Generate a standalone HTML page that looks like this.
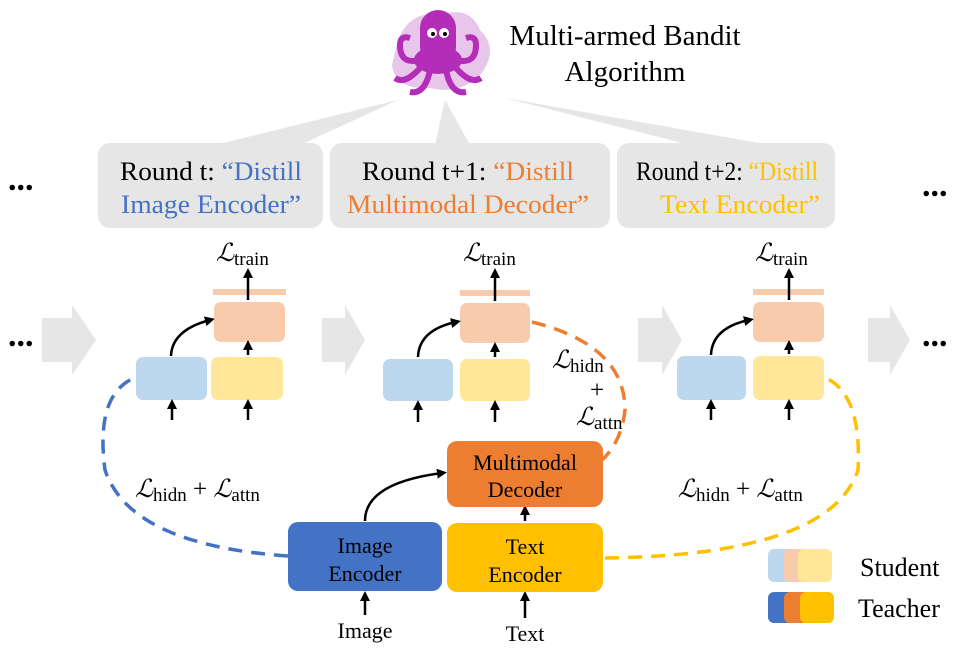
<!DOCTYPE html>
<html><head><meta charset="utf-8"><style>
html,body{margin:0;padding:0;background:#fff}
svg{display:block}
</style></head><body>
<svg width="967" height="651" viewBox="0 0 967 651" xmlns="http://www.w3.org/2000/svg" font-family="'Liberation Serif','Times New Roman',Times,serif">
<defs>
<marker id="ah" viewBox="0 0 10 10" refX="5" refY="5" markerWidth="4" markerHeight="4" orient="auto"><path d="M0,0 L10,5 L0,10 z" fill="#000"/></marker>
</defs>
<polygon points="398,100 215,145 300,145" fill="#e6e6e6"/>
<polygon points="445,100 435,145 470,145" fill="#e6e6e6"/>
<polygon points="505,98 690,145 770,145" fill="#e6e6e6"/>
<g>
<path d="M398,40 Q410,10 440,15 Q470,5 480,30 Q500,50 480,75 Q460,95 430,88 Q395,90 392,65 Z" fill="#e2b8e6" opacity="0.8"/>
<rect x="420" y="10" width="36" height="55" rx="18" fill="#b42db8"/>
<ellipse cx="438" cy="60" rx="24" ry="14" fill="#b42db8"/>
<circle cx="432" cy="33" r="5" fill="#fff"/><circle cx="444" cy="33" r="5" fill="#fff"/>
<circle cx="433" cy="34" r="2" fill="#000"/><circle cx="445" cy="34" r="2" fill="#000"/>
<path d="M420,60 Q400,65 400,45 Q400,35 410,38" stroke="#b42db8" stroke-width="6" fill="none"/>
<path d="M456,60 Q476,65 476,45 Q476,35 466,38" stroke="#b42db8" stroke-width="6" fill="none"/>
<path d="M420,68 Q405,85 395,78" stroke="#b42db8" stroke-width="6" fill="none"/>
<path d="M456,68 Q471,85 481,78" stroke="#b42db8" stroke-width="6" fill="none"/>
<path d="M430,70 Q425,95 410,92" stroke="#b42db8" stroke-width="6" fill="none"/>
<path d="M446,70 Q451,95 466,92" stroke="#b42db8" stroke-width="6" fill="none"/>
</g>
<text x="625" y="45" font-size="29" text-anchor="middle">Multi-armed Bandit</text>
<text x="625" y="81" font-size="29" text-anchor="middle">Algorithm</text>
<rect x="98" y="143" width="225" height="85" rx="12" fill="#e6e6e6"/>
<rect x="330" y="143" width="280" height="85" rx="12" fill="#e6e6e6"/>
<rect x="617" y="143" width="218" height="85" rx="12" fill="#e6e6e6"/>
<text x="120" y="180" font-size="26" textLength="182" lengthAdjust="spacingAndGlyphs">Round t: <tspan fill="#4472c4">“Distill</tspan></text>
<text x="121" y="213" font-size="26" fill="#4472c4" textLength="180" lengthAdjust="spacingAndGlyphs">Image Encoder”</text>
<text x="362" y="180" font-size="26" textLength="212" lengthAdjust="spacingAndGlyphs">Round t+1: <tspan fill="#ed7d31">“Distill</tspan></text>
<text x="347" y="213" font-size="26" fill="#ed7d31" textLength="242" lengthAdjust="spacingAndGlyphs">Multimodal Decoder”</text>
<text x="636" y="180" font-size="26" textLength="182" lengthAdjust="spacingAndGlyphs">Round t+2: <tspan fill="#ffc000">“Distill</tspan></text>
<text x="660" y="213" font-size="26" fill="#ffc000" textLength="160" lengthAdjust="spacingAndGlyphs">Text Encoder”</text>
<g font-size="34" font-weight="bold">
<text x="8" y="190">...</text>
<text x="8" y="346">...</text>
<text x="922" y="196">...</text>
<text x="922" y="346">...</text>
</g>
<g fill="#e6e6e6">
<polygon points="42,318 72,318 72,305 96,340 72,375 72,362 42,362"/>
<polygon points="322,318 345,318 345,305 365,340 345,375 345,362 322,362"/>
<polygon points="638,318 662,318 662,305 682,340 662,375 662,362 638,362"/>
<polygon points="868,318 890,318 890,305 910,340 890,375 890,362 868,362"/>
</g>
<g>
<rect x="136" y="357" width="71" height="43" rx="7" fill="#bdd7ee"/>
<rect x="211" y="357" width="72" height="43" rx="7" fill="#ffe699"/>
<rect x="214" y="302" width="71" height="40" rx="7" fill="#f8cbad"/>
<rect x="213" y="289" width="73" height="6" fill="#f8cbad"/>
</g>
<g>
<rect x="383" y="359" width="70" height="42" rx="7" fill="#bdd7ee"/>
<rect x="460" y="359" width="70" height="42" rx="7" fill="#ffe699"/>
<rect x="460" y="303" width="70" height="40" rx="7" fill="#f8cbad"/>
<rect x="460" y="290" width="70" height="6" fill="#f8cbad"/>
</g>
<g>
<rect x="677" y="356" width="69" height="44" rx="7" fill="#bdd7ee"/>
<rect x="753" y="356" width="71" height="44" rx="7" fill="#ffe699"/>
<rect x="753" y="302" width="71" height="40" rx="7" fill="#f8cbad"/>
<rect x="753" y="289" width="71" height="6" fill="#f8cbad"/>
</g>
<g stroke="#000" stroke-width="2.5" fill="none" marker-end="url(#ah)">
<line x1="172" y1="420" x2="172" y2="404"/><line x1="248" y1="420" x2="248" y2="404"/><line x1="248" y1="355" x2="248" y2="345"/><line x1="248" y1="300" x2="248" y2="273"/>
<path d="M171,356 Q172,330 210,320"/>
<line x1="418" y1="422" x2="418" y2="405"/><line x1="495" y1="422" x2="495" y2="405"/><line x1="495" y1="357" x2="495" y2="347"/><line x1="495" y1="301" x2="495" y2="273"/>
<path d="M418,357 Q419,330 456,322"/>
<line x1="711" y1="420" x2="711" y2="404"/><line x1="789" y1="420" x2="789" y2="404"/><line x1="789" y1="354" x2="789" y2="345"/><line x1="789" y1="300" x2="789" y2="273"/>
<path d="M711,355 Q712,328 749,320"/>
<line x1="365" y1="615" x2="365" y2="596"/><line x1="525" y1="618" x2="525" y2="596"/><line x1="525" y1="521" x2="525" y2="510"/>
<path d="M365,521 Q365,483 442,473"/>
</g>
<g font-size="25">
<text x="216" y="261" font-style="italic">ℒ<tspan font-style="normal" font-size="19" dy="4">train</tspan></text>
<text x="463" y="261" font-style="italic">ℒ<tspan font-style="normal" font-size="19" dy="4">train</tspan></text>
<text x="755" y="261" font-style="italic">ℒ<tspan font-style="normal" font-size="19" dy="4">train</tspan></text>
</g>
<path d="M288,556 Q130,545 105,470 Q95,395 134,378" stroke="#4472c4" stroke-width="3.5" fill="none" stroke-dasharray="14,9"/>
<path d="M532,322 Q625,345 625,410 Q620,455 583,473" stroke="#ed7d31" stroke-width="3.5" fill="none" stroke-dasharray="14,9"/>
<path d="M605,558 Q830,555 858,470 Q862,395 826,378" stroke="#ffc000" stroke-width="3.5" fill="none" stroke-dasharray="14,9"/>
<g font-size="25">
<text x="135" y="497" font-style="italic">ℒ<tspan font-style="normal" font-size="19" dy="4">hidn</tspan><tspan font-style="normal" dy="-4"> + </tspan><tspan>ℒ</tspan><tspan font-style="normal" font-size="19" dy="4">attn</tspan></text>
<text x="678" y="497" font-style="italic">ℒ<tspan font-style="normal" font-size="19" dy="4">hidn</tspan><tspan font-style="normal" dy="-4"> + </tspan><tspan>ℒ</tspan><tspan font-style="normal" font-size="19" dy="4">attn</tspan></text>
<text x="552" y="368" font-style="italic">ℒ<tspan font-style="normal" font-size="19" dy="4">hidn</tspan></text>
<text x="590" y="398">+</text>
<text x="576" y="425" font-style="italic">ℒ<tspan font-style="normal" font-size="19" dy="4">attn</tspan></text>
</g>
<rect x="288" y="522" width="154" height="69" rx="10" fill="#4472c4"/>
<rect x="447" y="523" width="156" height="69" rx="10" fill="#ffc000"/>
<rect x="447" y="441" width="156" height="66" rx="10" fill="#ed7d31"/>
<g font-size="22" text-anchor="middle">
<text x="365" y="553">Image</text>
<text x="365" y="581">Encoder</text>
<text x="525" y="554">Text</text>
<text x="525" y="582">Encoder</text>
<text x="525" y="470">Multimodal</text>
<text x="525" y="497">Decoder</text>
<text x="365" y="638">Image</text>
<text x="525" y="641">Text</text>
</g>
<rect x="768" y="549" width="34" height="33" rx="6" fill="#bdd7ee"/>
<rect x="784" y="549" width="34" height="33" rx="6" fill="#f8cbad"/>
<rect x="798" y="549" width="34" height="33" rx="6" fill="#ffe699"/>
<rect x="768" y="592" width="34" height="31" rx="6" fill="#4472c4"/>
<rect x="784" y="592" width="34" height="31" rx="6" fill="#ed7d31"/>
<rect x="800" y="592" width="34" height="31" rx="6" fill="#ffc000"/>
<text x="860" y="576" font-size="26">Student</text>
<text x="858" y="617" font-size="26">Teacher</text>
</svg>
</body></html>
